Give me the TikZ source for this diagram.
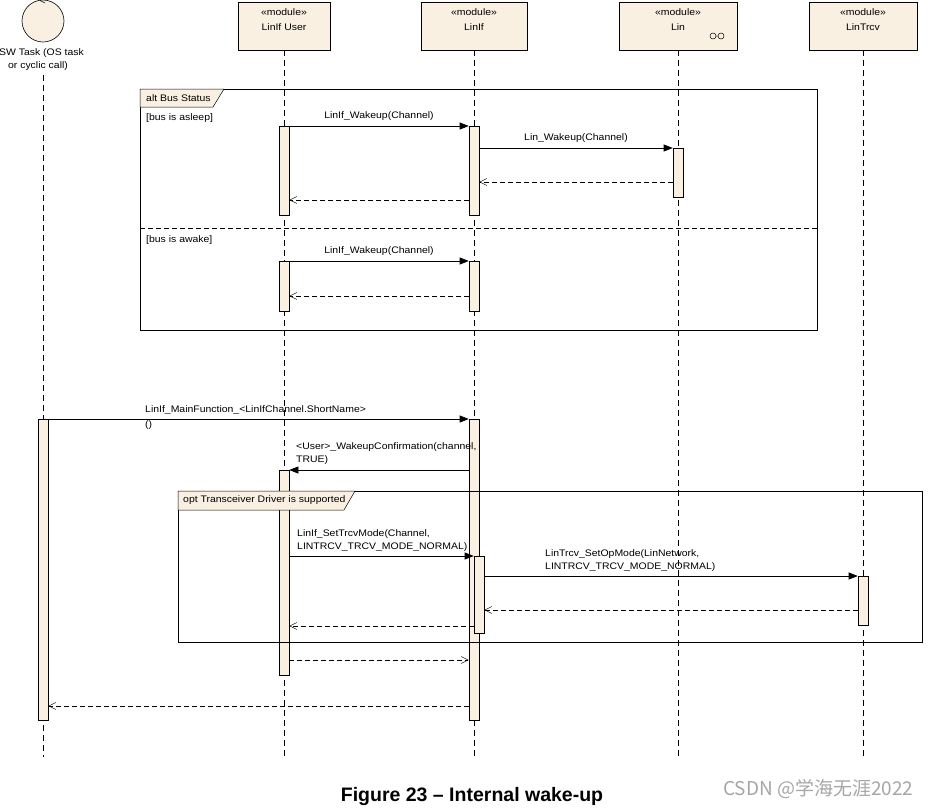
\documentclass[tikz,border=0pt]{standalone}
\usepackage{fontspec}
\setmainfont{Liberation Sans}
\newfontfamily\lbfont{Liberation Sans}[FakeStretch=1.1]
\newfontfamily\cjk{Noto Sans CJK SC}
\usetikzlibrary{arrows.meta}
\definecolor{bg}{RGB}{250,240,226}
\begin{document}
\begin{tikzpicture}[x=1pt,y=-1pt,
 head/.style={draw,fill=bg,line width=0.6pt},
 life/.style={dash pattern=on 6pt off 4pt,line width=0.6pt},
 bar/.style={draw,fill=bg,line width=0.6pt},
 call/.style={-{Triangle[length=9pt,width=7pt]},line width=0.6pt},
 ret/.style={-{Straight Barb[length=7pt,width=7pt]},dash pattern=on 5pt off 3pt,line width=0.5pt},
 lbl/.style={font=\lbfont\fontsize{9.5}{13}\selectfont,inner sep=0,align=left},
 frame/.style={draw,line width=0.7pt}]
\useasboundingbox (0,0) rectangle (929,807);
% heads
\node[head,circle,minimum size=42pt,inner sep=0] (bsw) at (43,21) {};
\draw[line width=0.6pt] (40,0.5) -- (45,3);
\node[lbl,align=center] (bswl) at (38,60) {BSW Task (OS task\\or cyclic call)};
\node[head,minimum width=92pt,minimum height=48pt] (hu) at (284,26) {};
\node[lbl] at (284,12) {«module»}; \node[lbl] at (284,27) {LinIf User};
\node[head,minimum width=106pt,minimum height=48pt] (hi) at (474,26) {};
\node[lbl] at (474,12) {«module»}; \node[lbl] at (474,27) {LinIf};
\node[head,minimum width=118pt,minimum height=48pt] (hl) at (678,26) {};
\node[lbl] at (678,12) {«module»}; \node[lbl] at (678,27) {Lin};
\draw[line width=0.5pt] (713,36) circle (3pt) (721,36) circle (3pt) (716,36)--(718,36);
\node[head,minimum width=108pt,minimum height=48pt] (ht) at (863,26) {};
\node[lbl] at (863,12) {«module»}; \node[lbl] at (863,27) {LinTrcv};
% lifelines
\coordinate (eb) at (43,757); \coordinate (eu) at (284,757); \coordinate (ei) at (474,757);
\coordinate (el) at (678,757); \coordinate (et) at (863,757);
\draw[life] (43,75) -- (eb); \draw[life] (hu.south) -- (eu); \draw[life] (hi.south) -- (ei);
\draw[life] (hl.south) -- (el); \draw[life] (ht.south) -- (et);
% alt frame
\draw[frame] (140,89) rectangle (817,330);
\draw[line width=0.5pt,fill=bg] (140,89) -- (224,89) -- (213,107) -- (140,107) -- cycle;
\node[lbl,anchor=west] at (146,98) {alt Bus Status};
\draw[dash pattern=on 5pt off 3pt,line width=0.6pt] (140,228) -- (817,228);
\node[lbl,anchor=west] at (146,118) {[bus is asleep]};
\node[lbl,anchor=west] at (146,240) {[bus is awake]};
\node[bar,minimum width=10pt,minimum height=89pt,inner sep=0,anchor=north] (u1) at (284,126) {};
\node[bar,minimum width=10pt,minimum height=89pt,inner sep=0,anchor=north] (i1) at (474,126) {};
\node[bar,minimum width=10pt,minimum height=49pt,inner sep=0,anchor=north] (l1) at (678,148) {};
\draw[call] (u1.north east) -- node[lbl,above=5pt]{LinIf\_Wakeup(Channel)} (i1.north west);
\draw[call] ([yshift=-22pt]i1.north east) -- node[lbl,above=5pt]{Lin\_Wakeup(Channel)} (l1.north west);
\draw[ret] ([yshift=-34pt]l1.north west) -- ([yshift=-56pt]i1.north east);
\draw[ret] ([yshift=-74pt]i1.north west) -- ([yshift=-74pt]u1.north east);
\node[bar,minimum width=10pt,minimum height=50pt,inner sep=0,anchor=north] (u2) at (284,261) {};
\node[bar,minimum width=10pt,minimum height=50pt,inner sep=0,anchor=north] (i2) at (474,261) {};
\draw[call] (u2.north east) -- node[lbl,above=5pt]{LinIf\_Wakeup(Channel)} (i2.north west);
\draw[ret] ([yshift=-35pt]i2.north west) -- ([yshift=-35pt]u2.north east);
% main part
\node[bar,minimum width=10pt,minimum height=301pt,inner sep=0,anchor=north] (b3) at (43,419) {};
\node[bar,minimum width=10pt,minimum height=301pt,inner sep=0,anchor=north] (i3) at (474,419) {};
\draw[call] (b3.north east) -- (i3.north west);
\node[lbl,anchor=south west] at (145,415) {LinIf\_MainFunction\_<LinIfChannel.ShortName>};
\node[lbl,anchor=north west] at (145,420) {()};
\node[bar,minimum width=10pt,minimum height=205pt,inner sep=0,anchor=north] (u3) at (284,470) {};
\draw[call] ([yshift=-51pt]i3.north west) -- (u3.north east);
\node[lbl,anchor=south west] at (296,465) {<User>\_WakeupConfirmation(channel,\\TRUE)};
% opt frame
\draw[frame] (178,491) rectangle (922,642);
\draw[line width=0.5pt,fill=bg] (178,491) -- (355,491) -- (344,510) -- (178,510) -- cycle;
\node[lbl,anchor=west] at (183,500.5) {opt Transceiver Driver is supported};
\node[bar,minimum width=10pt,minimum height=77pt,inner sep=0,anchor=north] (i4) at (479,556) {};
\node[bar,minimum width=10pt,minimum height=49pt,inner sep=0,anchor=north] (t4) at (863,576) {};
\draw[call] ([yshift=-86pt]u3.north east) -- (i4.north west);
\node[lbl,anchor=south west] at (297,552) {LinIf\_SetTrcvMode(Channel,\\LINTRCV\_TRCV\_MODE\_NORMAL)};
\draw[call] ([yshift=-20pt]i4.north east) -- (t4.north west);
\node[lbl,anchor=south west] at (545,572) {LinTrcv\_SetOpMode(LinNetwork,\\LINTRCV\_TRCV\_MODE\_NORMAL)};
\draw[ret] ([yshift=-34pt]t4.north west) -- ([yshift=-54pt]i4.north east);
\draw[ret] ([yshift=-70pt]i4.north west) -- ([yshift=-156pt]u3.north east);
\draw[ret] ([yshift=-190pt]u3.north east) -- ([yshift=-241pt]i3.north west);
\draw[ret] ([yshift=-287pt]i3.north west) -- ([yshift=-287pt]b3.north east);
% caption
\node[font=\bfseries\fontsize{19.5}{22}\selectfont] (cap) at (472,796) {Figure 23 – Internal wake-up};
\node[font=\cjk\fontsize{19}{21}\selectfont,text=gray!70,anchor=east] (wm) at (917,789) {CSDN @学海无涯2022};
\end{tikzpicture}
\end{document}
